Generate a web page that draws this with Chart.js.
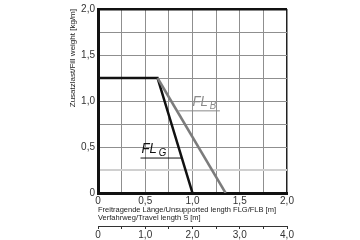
<!DOCTYPE html>
<html>
<head>
<meta charset="utf-8">
<script src="https://cdn.jsdelivr.net/npm/chart.js@4/dist/chart.umd.min.js"></script>
<style>
    html, body { margin: 0; padding: 0; background: #fff; }
    #chart-box { width: 360px; height: 240px; }
</style>
</head>
<body>
<div id="chart-box"><canvas id="load-chart"></canvas></div>
<script>
// FL_G: fill weight vs unsupported length (black)
const flgLength = [0, 0.63, 1.0];
const flgWeight = [1.25, 1.25, 0];
// FL_B (grey)
const flbLength = [0.63, 1.35];
const flbWeight = [1.25, 0];
// leader lines under the curve labels
const flgLeaderX = [0.45, 0.88];
const flgLeaderY = [0.38, 0.38];
const flbLeaderX = [0.85, 1.29];
const flbLeaderY = [0.893, 0.893];
// curve labels
const curveNames = ['FL', 'FL'];
const curveSubs = ['G', 'B'];
const curveLabelX = [0.46, 1.0];
const curveLabelY = [0.434, 0.946];
const curveColors = ['#111111', '#8a8a8a'];
// axis texts
const yTitle = 'Zusatzlast/Fill weight [kg/m]';
const xTitle = ['Freitragende Länge/Unsupported length FLG/FLB [m]', 'Verfahrweg/Travel length S [m]'];

const FONT = "'Liberation Sans', Arial, sans-serif";

function main() {

    const toPoints = (xs, ys) => xs.map((x, i) => ({ x: x, y: ys[i] }));

    const commaLabel = (value) => (value === 0 ? '0' : value.toFixed(1).replace('.', ','));

    const curveLabelPlugin = {
        id: 'curveLabels',
        afterDatasetsDraw(chart) {
            const ctx = chart.ctx;
            const xScale = chart.scales.x;
            const yScale = chart.scales.y;
            curveNames.forEach((name, i) => {
                const px = xScale.getPixelForValue(curveLabelX[i]);
                const py = yScale.getPixelForValue(curveLabelY[i]);
                ctx.save();
                ctx.translate(px, py);
                ctx.scale(0.88, 1);
                ctx.fillStyle = curveColors[i];
                ctx.textBaseline = 'alphabetic';
                ctx.textAlign = 'left';
                ctx.font = `italic 15px ${FONT}`;
                ctx.fillText(name, 0, 0);
                const w = ctx.measureText(name).width;
                ctx.font = `italic 11px ${FONT}`;
                ctx.fillText(curveSubs[i], w + 2, 3);
                ctx.restore();
            });
        }
    };

    const renderChart = () => {
        const chartElement = document.querySelector('#load-chart');

        new Chart(chartElement, {
            type: 'scatter',
            data: {
                datasets: [
                    {
                        data: toPoints(flbLeaderX, flbLeaderY),
                        borderColor: curveColors[1],
                        borderWidth: 1,
                    },
                    {
                        data: toPoints(flgLeaderX, flgLeaderY),
                        borderColor: curveColors[0],
                        borderWidth: 1,
                    },
                    {
                        data: toPoints(flbLength, flbWeight),
                        borderColor: '#7c7c7c',
                        borderWidth: 2.5,
                    },
                    {
                        data: toPoints(flgLength, flgWeight),
                        borderColor: '#111111',
                        borderWidth: 2.5,
                    },
                ].map((ds) => Object.assign(ds, {
                    showLine: true,
                    pointRadius: 0,
                    borderJoinStyle: 'miter',
                    tension: 0,
                })),
            },
            options: {
                responsive: true,
                maintainAspectRatio: false,
                animation: false,
                events: [],
                layout: { padding: { left: 65, right: 73, top: 3, bottom: 0 } },
                plugins: {
                    legend: { display: false },
                    tooltip: { enabled: false },
                },
                scales: {
                    x: {
                        type: 'linear',
                        position: 'bottom',
                        weight: 0,
                        min: 0,
                        max: 2,
                        afterFit: (scale) => { scale.height = 33; },
                        ticks: {
                            stepSize: 0.25,
                            padding: 2,
                            maxRotation: 0,
                            autoSkip: false,
                            color: '#333',
                            font: { family: FONT, size: 10 },
                            callback: (value) => (value % 0.5 === 0 ? commaLabel(value) : ''),
                        },
                        grid: {
                            drawTicks: false,
                            color: (c) => (c.tick && c.tick.value === 2 ? '#222' : '#8f8f8f'),
                            lineWidth: (c) => (c.tick && c.tick.value === 2 ? 1.5 : 1),
                        },
                        border: { color: '#111', width: 3 },
                        title: {
                            display: true,
                            text: xTitle,
                            align: 'start',
                            color: '#222',
                            font: { family: FONT, size: 7.5, lineHeight: 1.07 },
                            padding: { top: 0, bottom: 4 },
                        },
                    },
                    x2: {
                        type: 'linear',
                        position: 'bottom',
                        weight: 1,
                        min: 0,
                        max: 4,
                        afterFit: (scale) => { scale.height = 14; },
                        ticks: {
                            stepSize: 0.5,
                            padding: 0,
                            maxRotation: 0,
                            autoSkip: false,
                            color: '#333',
                            font: { family: FONT, size: 10 },
                            callback: (value) => (value % 1 === 0 ? commaLabel(value) : ''),
                        },
                        grid: {
                            drawOnChartArea: false,
                            tickLength: 3,
                            color: '#333',
                        },
                        border: { color: '#333', width: 1 },
                    },
                    y: {
                        type: 'linear',
                        position: 'left',
                        min: 0,
                        max: 2,
                        afterFit: (scale) => { scale.width = 33; },
                        ticks: {
                            stepSize: 0.25,
                            padding: 3,
                            autoSkip: false,
                            color: '#333',
                            font: { family: FONT, size: 10 },
                            callback: (value) => (value % 0.5 === 0 ? commaLabel(value) : ''),
                        },
                        grid: {
                            drawTicks: false,
                            color: (c) => {
                                const v = c.tick ? c.tick.value : null;
                                if (v === 2) return '#111';
                                if (v === 0.25) return '#d0d0d0';
                                return '#8f8f8f';
                            },
                            lineWidth: (c) => {
                                const v = c.tick ? c.tick.value : null;
                                if (v === 2) return 2.5;
                                if (v === 0.25) return 2;
                                return 1;
                            },
                        },
                        border: { color: '#111', width: 3 },
                        title: {
                            display: true,
                            text: yTitle,
                            align: 'end',
                            color: '#222',
                            font: { family: FONT, size: 8, lineHeight: 1.2 },
                            padding: { top: 3, bottom: 0 },
                        },
                    },
                },
            },
            plugins: [curveLabelPlugin],
        });
    };

    document.addEventListener('DOMContentLoaded', () => {
        renderChart();
    });
}

main();
</script>
</body>
</html>
